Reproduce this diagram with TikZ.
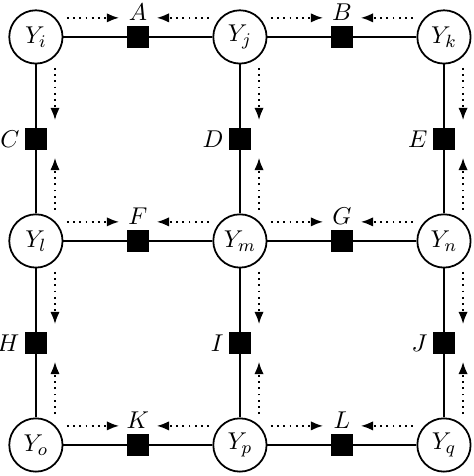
\documentclass[tikz,border=0pt]{standalone}
\usepackage{amsmath}
\usepackage{amssymb}
\usepackage{tikz}
\usepackage{xcolor}
\usetikzlibrary{arrows.meta}

\tikzset{
  var/.style={draw,circle,thick,minimum size=24pt,inner sep=0pt},
  fac/.style={draw,fill=black,rectangle,minimum size=9.8pt,inner sep=0pt},
  msg/.style={thick,dotted,-{Latex[length=5.5pt,width=4.2pt]}},
}

\begin{document}
\begin{tikzpicture}[x=3.23cm,y=3.23cm,label distance=-1.2pt,
    every node/.style={font=\fontsize{11.3pt}{14pt}\selectfont}]
        \useasboundingbox (-0.176,-2.152) rectangle (2.147,0.181);

        % variables
        \node[var] (yi) at (0,0) {$Y_i$};
        \node[var] (yj) at (1,0) {$Y_j$};
        \node[var] (yk) at (2,0) {$Y_k$};
        \node[var] (yl) at (0,-1) {$Y_l$};
        \node[var] (ym) at (1,-1) {$Y_m$};
        \node[var] (yn) at (2,-1) {$Y_n$};
        \node[var] (yo) at (0,-2) {$Y_o$};
        \node[var] (yp) at (1,-2) {$Y_p$};
        \node[var] (yq) at (2,-2) {$Y_q$};

        % factors on rows
        \node[fac,label=above:$A$] (fa) at (0.5,0) {};
        \node[fac,label=above:$B$] (fb) at (1.5,0) {};
        \node[fac,label=above:$F$] (ff) at (0.5,-1) {};
        \node[fac,label=above:$G$] (fg) at (1.5,-1) {};
        \node[fac,label=above:$K$] (fk) at (0.5,-2) {};
        \node[fac,label=above:$L$] (fl) at (1.5,-2) {};

        % factors on columns
        \node[fac,label=left:$C$] (fc) at (0,-0.5) {};
        \node[fac,label=left:$D$] (fd) at (1,-0.5) {};
        \node[fac,label=left:$E$] (fe) at (2,-0.5) {};
        \node[fac,label=left:$H$] (fh) at (0,-1.5) {};
        \node[fac,label=left:$I$] (fi) at (1,-1.5) {};
        \node[fac,label=left:$J$] (fj) at (2,-1.5) {};

        % edges
        \draw[thick] (yi) -- (fa) -- (yj) -- (fb) -- (yk);
        \draw[thick] (yl) -- (ff) -- (ym) -- (fg) -- (yn);
        \draw[thick] (yo) -- (fk) -- (yp) -- (fl) -- (yq);
        \draw[thick] (yi) -- (fc) -- (yl) -- (fh) -- (yo);
        \draw[thick] (yj) -- (fd) -- (ym) -- (fi) -- (yp);
        \draw[thick] (yk) -- (fe) -- (yn) -- (fj) -- (yq);

        % messages into row factors
        \draw[msg] ([shift={(-32pt,8.6pt)}]fa.center) -- ([shift={(-8.5pt,8.6pt)}]fa.center);
        \draw[msg] ([shift={(32pt,8.6pt)}]fa.center) -- ([shift={(8.5pt,8.6pt)}]fa.center);
        \draw[msg] ([shift={(-32pt,8.6pt)}]fb.center) -- ([shift={(-8.5pt,8.6pt)}]fb.center);
        \draw[msg] ([shift={(32pt,8.6pt)}]fb.center) -- ([shift={(8.5pt,8.6pt)}]fb.center);
        \draw[msg] ([shift={(-32pt,8.6pt)}]ff.center) -- ([shift={(-8.5pt,8.6pt)}]ff.center);
        \draw[msg] ([shift={(32pt,8.6pt)}]ff.center) -- ([shift={(8.5pt,8.6pt)}]ff.center);
        \draw[msg] ([shift={(-32pt,8.6pt)}]fg.center) -- ([shift={(-8.5pt,8.6pt)}]fg.center);
        \draw[msg] ([shift={(32pt,8.6pt)}]fg.center) -- ([shift={(8.5pt,8.6pt)}]fg.center);
        \draw[msg] ([shift={(-32pt,8.6pt)}]fk.center) -- ([shift={(-8.5pt,8.6pt)}]fk.center);
        \draw[msg] ([shift={(32pt,8.6pt)}]fk.center) -- ([shift={(8.5pt,8.6pt)}]fk.center);
        \draw[msg] ([shift={(-32pt,8.6pt)}]fl.center) -- ([shift={(-8.5pt,8.6pt)}]fl.center);
        \draw[msg] ([shift={(32pt,8.6pt)}]fl.center) -- ([shift={(8.5pt,8.6pt)}]fl.center);

        % messages into column factors
        \draw[msg] ([shift={(8.6pt,32pt)}]fc.center) -- ([shift={(8.6pt,8.5pt)}]fc.center);
        \draw[msg] ([shift={(8.6pt,-32pt)}]fc.center) -- ([shift={(8.6pt,-8.5pt)}]fc.center);
        \draw[msg] ([shift={(8.6pt,32pt)}]fd.center) -- ([shift={(8.6pt,8.5pt)}]fd.center);
        \draw[msg] ([shift={(8.6pt,-32pt)}]fd.center) -- ([shift={(8.6pt,-8.5pt)}]fd.center);
        \draw[msg] ([shift={(8.6pt,32pt)}]fe.center) -- ([shift={(8.6pt,8.5pt)}]fe.center);
        \draw[msg] ([shift={(8.6pt,-32pt)}]fe.center) -- ([shift={(8.6pt,-8.5pt)}]fe.center);
        \draw[msg] ([shift={(8.6pt,32pt)}]fh.center) -- ([shift={(8.6pt,8.5pt)}]fh.center);
        \draw[msg] ([shift={(8.6pt,-32pt)}]fh.center) -- ([shift={(8.6pt,-8.5pt)}]fh.center);
        \draw[msg] ([shift={(8.6pt,32pt)}]fi.center) -- ([shift={(8.6pt,8.5pt)}]fi.center);
        \draw[msg] ([shift={(8.6pt,-32pt)}]fi.center) -- ([shift={(8.6pt,-8.5pt)}]fi.center);
        \draw[msg] ([shift={(8.6pt,32pt)}]fj.center) -- ([shift={(8.6pt,8.5pt)}]fj.center);
        \draw[msg] ([shift={(8.6pt,-32pt)}]fj.center) -- ([shift={(8.6pt,-8.5pt)}]fj.center);
    \end{tikzpicture}
\end{document}
